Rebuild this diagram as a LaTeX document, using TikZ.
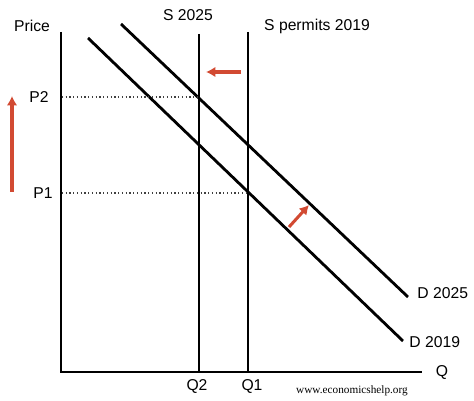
\documentclass[tikz,border=0pt]{standalone}
\usepackage{fontspec}
\setmainfont{Liberation Sans}
\newfontfamily\webfont{Liberation Serif}
\usetikzlibrary{positioning,arrows.meta}
\definecolor{shiftred}{RGB}{210,74,50}

\begin{document}
\begin{tikzpicture}[x=0.03cm,y=-0.03cm,line width=2.4pt,
    curve/.style={black,line cap=butt},
    shift arrow/.style={shiftred,line width=2.6pt,-{Latex[length=8pt,width=9pt]}},
    guide/.style={dash pattern=on 1pt off 2.2pt,line width=0.9pt,black!75},
    lbl/.style={font=\fontsize{13.4}{16}\selectfont,inner sep=0pt}]
\useasboundingbox (0,0) rectangle (474,401);

% axes
\coordinate (ytop) at (61,32);
\coordinate (origin) at (61,372);
\coordinate (xend) at (422,372);
\draw[curve,line join=miter] (ytop) -- (origin) -- (xend);

% supply and demand
\coordinate (s25top) at (199,34);   \coordinate (s25bot) at (199,372);
\coordinate (s19top) at (248,32);   \coordinate (s19bot) at (248,372);
\coordinate (d25a) at (121,24);     \coordinate (d25b) at (408,297);
\coordinate (d19a) at (88,38);      \coordinate (d19b) at (403,341);
\draw[curve] (s25top) -- (s25bot);
\draw[curve] (s19top) -- (s19bot);
\draw[curve] (d25a) -- (d25b);
\draw[curve] (d19a) -- (d19b);

% equilibria
\coordinate (eq2) at (199,97);
\coordinate (eq1) at (248,193);
\coordinate (p2axis) at (62,97);
\coordinate (p1axis) at (62,193);
\draw[guide] (p2axis) -- (eq2);
\draw[guide] (p1axis) -- (eq1);

% shifts
\coordinate (sfrom) at (241,72);   \coordinate (sto) at (206,72);
\coordinate (pfrom) at (12,192);   \coordinate (pto) at (12,96);
\coordinate (dfrom) at (289,227);  \coordinate (dto) at (309,205);
\draw[shift arrow] (sfrom) -- (sto);
\draw[shift arrow] (pfrom) -- (pto);
\draw[shift arrow] (dfrom) -- (dto);

% labels
\node[lbl] (price) at (32,26) {Price};
\node[lbl] (qlab) at (442,373) {Q};
\node[lbl] (s25) at (188,15) {S 2025};
\node[lbl] (s19) at (317,26) {S permits 2019};
\node[lbl,anchor=east] (p2) at (50,97) {P2};
\node[lbl,anchor=east] (p1) at (54,193) {P1};
\node[lbl] (q2) at (197,387) {Q2};
\node[lbl] (q1) at (252,387) {Q1};
\node[lbl,anchor=west] (d25) at (416,293) {D 2025};
\node[lbl,anchor=west] (d19) at (408,342) {D 2019};
\node[inner sep=0pt,font=\webfont\fontsize{9.6}{11}\selectfont] (web) at (352,391) {www.economicshelp.org};
\end{tikzpicture}
\end{document}
